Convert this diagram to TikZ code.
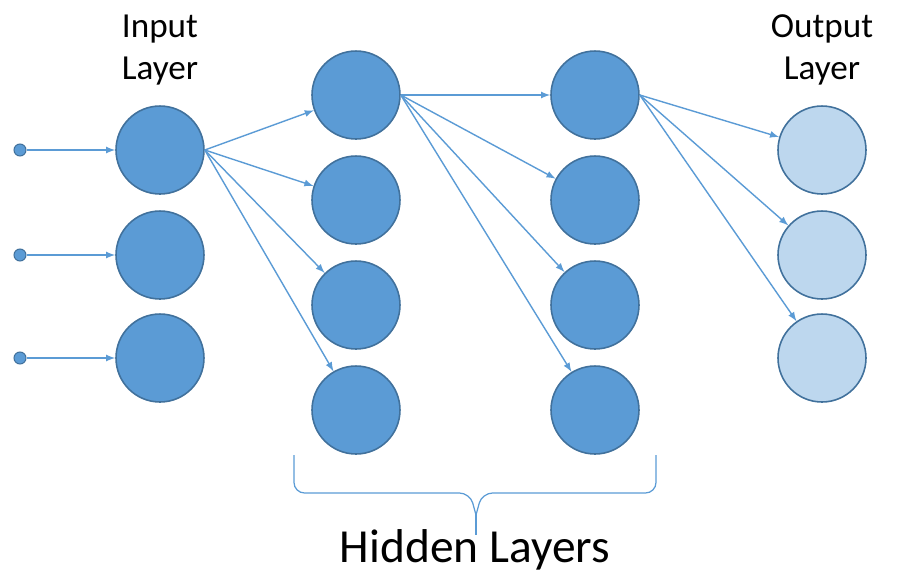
\documentclass[tikz,border=0pt]{standalone}
\usepackage{fontspec}
\setmainfont{Carlito}
\usepackage{xcolor}
\usetikzlibrary{calc}
\usetikzlibrary{positioning}
\definecolor{nodeblue}{HTML}{5B9BD5}
\definecolor{nodeedge}{HTML}{41719C}
\definecolor{outblue}{HTML}{BDD7EE}
\tikzset{
	neuron/.style={circle,draw=nodeedge,fill=nodeblue,line width=0.9pt,minimum size=1.76cm,inner sep=0pt},
	outneuron/.style={neuron,fill=outblue},
	dot/.style={circle,draw=nodeedge,fill=nodeblue,line width=0.6pt,minimum size=0.24cm,inner sep=0pt},
	link/.style={draw=nodeblue,line width=0.8pt,-latex},
	label/.style={font=\fontsize{20}{24}\selectfont,align=center}
}
\begin{document}
\begin{tikzpicture}[x=0.02cm,y=-0.02cm]
	\useasboundingbox (0,0) rectangle (900,583);
	
	% input layer
	\foreach \i/\y in {1/150,2/255,3/358} {
		\node [dot] (x\i) at (20,\y) {};
		\node [neuron] (in\i) at (160,\y) {};
		\draw [link] (x\i) -- (in\i);
	}
	
	% hidden layers
	\foreach \i/\y in {1/95,2/200,3/305,4/410} {
		\node [neuron] (ha\i) at (356,\y) {};
		\node [neuron] (hb\i) at (595,\y) {};
	}
	
	% output layer
	\foreach \i/\y in {1/150,2/255,3/358} {
		\node [outneuron] (out\i) at (822,\y) {};
	}
	
	\foreach \i in {1,...,4} {
		\draw [link] (in1.east) -- (ha\i);
		\draw [link] (ha1.east) -- (hb\i);
	}
	\foreach \i in {1,2,3} {
		\draw [link] (hb1.east) -- (out\i);
	}
	
	\node [label] (inlabel) at (160,50) {Input\\Layer};
	\node [label] (outlabel) at (822,50) {Output\\Layer};
	
	% brace
	\draw [nodeblue,line width=0.7pt,rounded corners=6pt] (294,455) -- (294,493) -- (470,493) -- (476,515);
	\draw [nodeblue,line width=0.7pt,rounded corners=6pt] (656,455) -- (656,493) -- (482,493) -- (476,515);
	\draw [nodeblue,line width=0.7pt] (476,512) -- (476,535);
	\node [font=\fontsize{27}{32}\selectfont] (hidden) at (475,550) {Hidden Layers};
	
\end{tikzpicture}
\end{document}
